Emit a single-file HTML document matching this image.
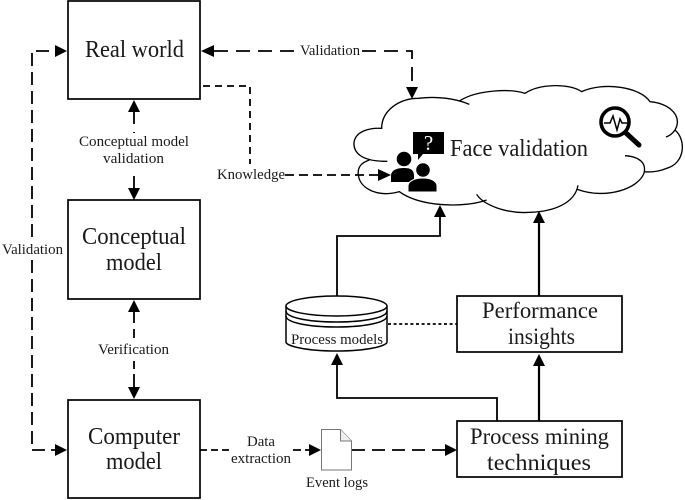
<!DOCTYPE html>
<html><head><meta charset="utf-8"><style>
html,body{margin:0;padding:0;background:#fff}
svg{display:block}
text{font-family:"Liberation Serif",serif;fill:#1a1a1a}
</style></head><body>
<svg width="685" height="500" viewBox="0 0 685 500" xmlns="http://www.w3.org/2000/svg">
<g fill="#fff" stroke="#000" stroke-width="1.7">
<rect x="68" y="1" width="132" height="98"/>
<rect x="68" y="200" width="132" height="99"/>
<rect x="68" y="400" width="132" height="98"/>
<rect x="457" y="296" width="165" height="56"/>
<rect x="457" y="421" width="165" height="56"/>
</g>
<!-- cloud -->
<g fill="none" stroke="#000" transform="translate(340 60) scale(.3333)" style="stroke-width:4">
<path d="M142 304C60 305 40 275 42 248C46 215 85 203 125 205C125 150 180 115 235 115C290 108 345 115 388 133"/>
<path d="M360 122C410 90 510 85 555 100C600 70 690 70 725 95C790 65 900 80 930 125C985 130 1015 160 1012 190C1010 210 995 225 978 231"/>
<path d="M1005 210C1040 240 1035 310 980 325C955 335 930 337 912 335"/>
<path d="M855 287C900 290 920 310 912 340C895 385 800 420 712 388"/>
<path d="M714 376C705 430 640 455 570 457C500 462 430 435 410 403"/>
<path d="M440 420C370 445 240 440 178 395C120 412 60 390 55 345C52 320 65 308 88 300"/>
</g>
<!-- connectors -->
<g fill="none" stroke="#000" stroke-width="1.8">
<path d="M32 237V51H58" stroke-dasharray="13 6"/>
<path d="M32 260V450H58" stroke-dasharray="13 6"/>
<path d="M214 51H298M362 51H412V88" stroke-dasharray="14 8"/>
<path d="M203 86H250V164" stroke-dasharray="7 5"/>
<path d="M285 175H378" stroke-dasharray="9 5"/>
<path d="M134 112V133" stroke-dasharray="12 8 1 10"/>
<path d="M134 176V188"/>
<path d="M134 312V338" stroke-dasharray="11 6"/>
<path d="M134 361V388" stroke-dasharray="8 5 30 0"/>
<path d="M200 450H231" stroke-dasharray="7 4"/>
<path d="M293 450H310" stroke-dasharray="8 4"/>
<path d="M352 450H445" stroke-dasharray="13 7"/>
<path d="M337 296V236H440V216"/>
<path d="M539 296V222" stroke-width="2.200"/>
<path d="M539 421V366" stroke-width="2.200"/>
<path d="M497 421V398H337V365"/>
<path d="M388 324H457" stroke-dasharray="3 2.600"/>
</g>
<!-- arrowheads -->
<g fill="#000">
<path d="M67 51L55 45V57Z"/>
<path d="M67 450L55 444V456Z"/>
<path d="M201 51L214 45V57Z"/>
<path d="M412 99L406 87H418Z"/>
<path d="M134 100L128 112H140Z"/>
<path d="M134 200L128 188H140Z"/>
<path d="M134 300L128 312H140Z"/>
<path d="M134 399L128 387H140Z"/>
<path d="M391 175L378 169V181Z"/>
<path d="M321 450L309 444V456Z"/>
<path d="M457 450L445 444V456Z"/>
<path d="M440 205L434 217H446Z"/>
<path d="M539 211L533 223H545Z"/>
<path d="M539 354L533 366H545Z"/>
<path d="M337 353L331 365H343Z"/>
</g>
<!-- cylinder -->
<g fill="#fff" stroke="#000" stroke-width="1.500">
<path d="M286 306V342C286 346 306 351 336.500 351C367 351 387 346 387 342V306"/>
<ellipse cx="336.500" cy="306" rx="50.500" ry="10"/>
<path d="M286 311C286 317 306 322 336.500 322C367 322 387 317 387 311" fill="none"/>
<path d="M286 316C286 322 306 327 336.500 327C367 327 387 322 387 316" fill="none"/>
</g>
<!-- doc -->
<path d="M321.500 429.500H340.500L351.500 441V470H321.500Z" fill="#fff" stroke="#777" stroke-width="1"/>
<path d="M340.500 429.500V441H351.500" fill="#eee" stroke="#777" stroke-width="1"/>
<!-- people icon -->
<g fill="#000">
<path d="M413 132H444V154H423L418 160V154H413Z"/>
<circle cx="404" cy="159" r="7.300"/>
<path d="M391 182V176C391 170 397 168 404 168C411 168 414 170 414 176V182Z"/>
<circle cx="423" cy="170" r="7.300" stroke="#fff" stroke-width="1"/>
<path d="M408 192V186C408 181 415 178 423 178C431 178 437 181 437 186V192Z" stroke="#fff" stroke-width="1"/>
</g>
<text x="428.500" y="150" font-size="21" text-anchor="middle" style="fill:#fff">?</text>
<!-- magnifier -->
<g fill="none" stroke="#000">
<circle cx="615" cy="122" r="14" stroke-width="3.600"/>
<path d="M626 133L639 145" stroke-width="5" stroke-linecap="round"/>
<path d="M604 123H610L613 116L617 130L620 119L622 123H627" stroke-width="1.500"/>
</g>
<!-- labels -->
<g font-size="24">
<text x="85" y="57" textLength="99" lengthAdjust="spacingAndGlyphs">Real world</text>
<text x="82" y="244" textLength="104" lengthAdjust="spacingAndGlyphs">Conceptual</text>
<text x="106" y="270" textLength="56" lengthAdjust="spacingAndGlyphs">model</text>
<text x="88" y="444" textLength="92" lengthAdjust="spacingAndGlyphs">Computer</text>
<text x="106" y="469" textLength="56" lengthAdjust="spacingAndGlyphs">model</text>
<text x="450" y="156" textLength="138" lengthAdjust="spacingAndGlyphs">Face validation</text>
</g>
<g font-size="23">
<text x="482" y="318" textLength="116" lengthAdjust="spacingAndGlyphs">Performance</text>
<text x="508" y="344" textLength="67" lengthAdjust="spacingAndGlyphs">insights</text>
<text x="470" y="444" textLength="139" lengthAdjust="spacingAndGlyphs">Process mining</text>
<text x="487" y="470" textLength="104" lengthAdjust="spacingAndGlyphs">techniques</text>
</g>
<g font-size="15">
<text x="79" y="146" textLength="110" lengthAdjust="spacingAndGlyphs">Conceptual model</text>
<text x="103" y="163" textLength="61" lengthAdjust="spacingAndGlyphs">validation</text>
<text x="98" y="354" textLength="71" lengthAdjust="spacingAndGlyphs">Verification</text>
<text x="2" y="254" textLength="61" lengthAdjust="spacingAndGlyphs">Validation</text>
<text x="300" y="55" textLength="60" lengthAdjust="spacingAndGlyphs">Validation</text>
<text x="217" y="179" textLength="68" lengthAdjust="spacingAndGlyphs">Knowledge</text>
<text x="247" y="446" textLength="28" lengthAdjust="spacingAndGlyphs">Data</text>
<text x="231" y="463" textLength="60" lengthAdjust="spacingAndGlyphs">extraction</text>
<text x="306" y="487" textLength="62" lengthAdjust="spacingAndGlyphs">Event logs</text>
<text x="291" y="344" textLength="92" lengthAdjust="spacingAndGlyphs">Process models</text>
</g>
</svg>
</body></html>
